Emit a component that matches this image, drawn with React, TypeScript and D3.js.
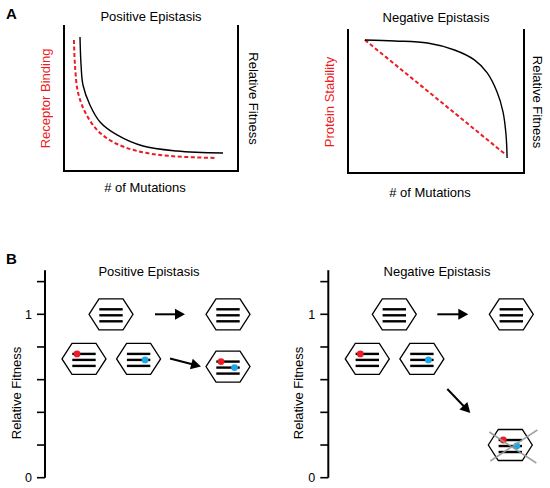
import React from 'react';
import * as d3 from 'd3';

// ---- Panel A: schematic curves, normalised [# of mutations, value] ----
const posFitness: [number, number][] = [
  [0.092, 0.918], [0.098, 0.726], [0.109, 0.589], [0.149, 0.452], [0.207, 0.336],
  [0.305, 0.247], [0.454, 0.171], [0.649, 0.137], [0.914, 0.123],
];
const posBinding: [number, number][] = [
  [0.057, 0.897], [0.063, 0.726], [0.080, 0.541], [0.121, 0.404], [0.190, 0.281],
  [0.282, 0.199], [0.420, 0.137], [0.609, 0.103], [0.879, 0.089],
];
const negFitness: [number, number][] = [
  [0.096, 0.899], [0.266, 0.892], [0.452, 0.878], [0.605, 0.831], [0.718, 0.764],
  [0.791, 0.676], [0.847, 0.547], [0.881, 0.412], [0.898, 0.257], [0.904, 0.101],
];
const negStability: [number, number][] = [[0.096, 0.899], [0.898, 0.122]];

// ---- Panel B: genotypes placed by column and relative fitness ----
const fitnessTicks = [0, 0.2, 0.4, 0.6, 0.8, 1, 1.2];
const fitnessLabels: Record<number, string> = { 0: '0', 1: '1' };

interface Genotype { col: number; fitness: number; muts: string[]; dead?: boolean }
const posGenotypes: Genotype[] = [
  { col: 0.33, fitness: 1, muts: [] },
  { col: 0.915, fitness: 1, muts: [] },
  { col: 0.195, fitness: 0.727, muts: ['red'] },
  { col: 0.468, fitness: 0.727, muts: ['blue'] },
  { col: 0.915, fitness: 0.68, muts: ['red', 'blue'] },
];
const negGenotypes: Genotype[] = [
  { col: 0.33, fitness: 1, muts: [] },
  { col: 0.915, fitness: 1, muts: [] },
  { col: 0.195, fitness: 0.727, muts: ['red'] },
  { col: 0.468, fitness: 0.727, muts: ['blue'] },
  { col: 0.91, fitness: 0.2, muts: ['red', 'blue'], dead: true },
];
// [col0, fitness0, col1, fitness1]
const posArrows: number[][] = [[0.55, 1, 0.7, 1], [0.625, 0.73, 0.78, 0.68]];
const negArrows: number[][] = [[0.545, 1, 0.7, 1], [0.595, 0.543, 0.71, 0.396]];

const RED = '#ed1c24';
const BLUE = '#1ca7e6';
const FONT = '"Liberation Sans", Arial, sans-serif';

const CurvePanel = ({ x0, x1, top, bottom, lineTop, title, titleY, xLabelY, leftLabel, leftX, rightX, labelCy, black, red }: any) => {
  const x = d3.scaleLinear().domain([0, 1]).range([x0, x1]);
  const y = d3.scaleLinear().domain([0, 1]).range([bottom, top]);
  const line = d3.line<[number, number]>().x((d) => x(d[0])).y((d) => y(d[1])).curve(d3.curveCatmullRom.alpha(0.5));
  const mid = (x0 + x1) / 2;
  return (
    <g>
      <path d={`M${x0},${lineTop}V${bottom}H${x1}V${lineTop}`} fill="none" stroke="#000" strokeWidth={2} />
      <path d={line(red) || ''} fill="none" stroke={RED} strokeWidth={2} strokeDasharray="4,2.5" />
      <path d={line(black) || ''} fill="none" stroke="#000" strokeWidth={1.4} />
      <text x={mid} y={titleY} textAnchor="middle" fontSize={13}>{title}</text>
      <text x={mid - 6} y={xLabelY} textAnchor="middle" fontSize={13}>{'# of Mutations'}</text>
      <text transform={`translate(${leftX},${labelCy}) rotate(-90)`} textAnchor="middle" fontSize={13} fill={RED}>{leftLabel}</text>
      <text transform={`translate(${rightX},${labelCy}) rotate(90)`} textAnchor="middle" fontSize={13}>Relative Fitness</text>
    </g>
  );
};

const Hexagon = ({ cx, cy, g }: { cx: number; cy: number; g: Genotype }) => {
  const hw = 22, fw = 12, hh = 15.5;
  const pts = [[-hw, 0], [-fw, -hh], [fw, -hh], [hw, 0], [fw, hh], [-fw, hh]].map((p) => `${cx + p[0]},${cy + p[1]}`).join(' ');
  const lineYs = [-5, 1, 7];
  return (
    <g>
      <polygon points={pts} fill="#fff" stroke="#000" strokeWidth={1.3} />
      {lineYs.map((dy, i) => (
        <line key={i} x1={cx - 11.7} x2={cx + 11.7} y1={cy + dy} y2={cy + dy} stroke="#000" strokeWidth={2.4} />
      ))}
      {g.muts.includes('red') && <circle cx={cx - 7} cy={cy + lineYs[0]} r={3.4} fill={RED} />}
      {g.muts.includes('blue') && <circle cx={cx + 6.5} cy={cy + lineYs[1]} r={3.4} fill={BLUE} />}
      {g.dead && (
        <g stroke="#999" strokeWidth={1.6} opacity={0.9}>
          <line x1={cx - 21} y1={cy - 13} x2={cx + 26} y2={cy + 18} />
          <line x1={cx - 20} y1={cy + 16} x2={cx + 27} y2={cy - 15} />
        </g>
      )}
    </g>
  );
};

const Arrow = ({ x0, y0, x1, y1 }: { x0: number; y0: number; x1: number; y1: number }) => {
  const ang = Math.atan2(y1 - y0, x1 - x0);
  const len = 10, half = 5.5;
  const bx = x1 - len * Math.cos(ang), by = y1 - len * Math.sin(ang);
  const px = -Math.sin(ang) * half, py = Math.cos(ang) * half;
  return (
    <g>
      <line x1={x0} y1={y0} x2={bx + Math.cos(ang)} y2={by + Math.sin(ang)} stroke="#000" strokeWidth={2} />
      <polygon points={`${x1},${y1} ${bx + px},${by + py} ${bx - px},${by - py}`} fill="#000" />
    </g>
  );
};

const FitnessPanel = ({ axisX, title, titleX, labelX, genotypes, arrows }: any) => {
  const x = d3.scaleLinear().domain([0, 1]).range([axisX, axisX + 200]);
  const y = d3.scaleLinear().domain([0, 1]).range([477.7, 314.3]);
  return (
    <g>
      <line x1={axisX} x2={axisX} y1={y(1.27)} y2={y(0)} stroke="#000" strokeWidth={2} />
      {fitnessTicks.map((t) => (
        <g key={t}>
          <line x1={axisX - 8} x2={axisX} y1={y(t)} y2={y(t)} stroke="#000" strokeWidth={1.6} />
          {fitnessLabels[t] && (
            <text x={axisX - 13} y={y(t) + 4.5} textAnchor="end" fontSize={12.5}>{fitnessLabels[t]}</text>
          )}
        </g>
      ))}
      <text transform={`translate(${labelX},393) rotate(-90)`} textAnchor="middle" fontSize={13}>Relative Fitness</text>
      <text x={titleX} y={276} textAnchor="middle" fontSize={13}>{title}</text>
      {arrows.map((a: number[], i: number) => (
        <Arrow key={i} x0={x(a[0])} y0={y(a[1])} x1={x(a[2])} y1={y(a[3])} />
      ))}
      {genotypes.map((g: Genotype, i: number) => (
        <Hexagon key={i} cx={x(g.col)} cy={y(g.fitness)} g={g} />
      ))}
    </g>
  );
};

export default function App() {
  return (
    <svg width={550} height={488} style={{ position: 'absolute', left: 0, top: 0, background: '#fff' }} fontFamily={FONT}>
      <rect width={550} height={488} fill="#fff" />
      <text x={6} y={19} fontSize={15} fontWeight="bold">A</text>
      <text x={6} y={264} fontSize={15} fontWeight="bold">B</text>
      <CurvePanel x0={64} x1={238} top={25} bottom={171} lineTop={25} title="Positive Epistasis" titleY={20.5}
        xLabelY={192} leftLabel="Receptor Binding" leftX={50} rightX={249} labelCy={98.5} black={posFitness} red={posBinding} />
      <CurvePanel x0={348} x1={524} top={25} bottom={173} lineTop={29} title="Negative Epistasis" titleY={21.5}
        xLabelY={197} leftLabel="Protein Stability" leftX={334} rightX={533} labelCy={102} black={negFitness} red={negStability} />
      <FitnessPanel axisX={45} title="Positive Epistasis" titleX={149} labelX={21} genotypes={posGenotypes} arrows={posArrows} />
      <FitnessPanel axisX={328.3} title="Negative Epistasis" titleX={437} labelX={303} genotypes={negGenotypes} arrows={negArrows} />
    </svg>
  );
}
